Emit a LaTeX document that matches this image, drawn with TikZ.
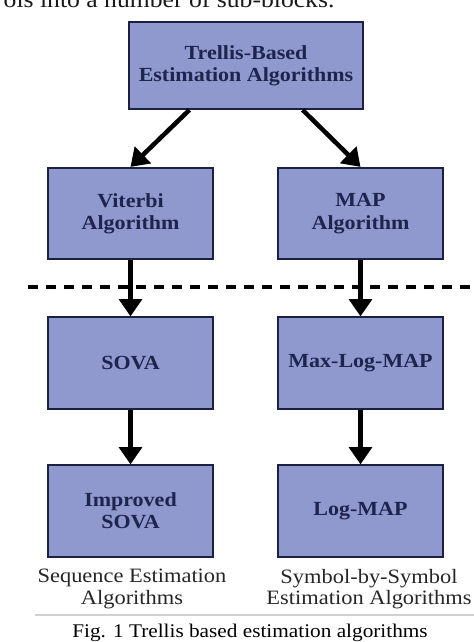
\documentclass[tikz,border=0pt]{standalone}
\usepackage{fontspec}
\setmainfont{Liberation Serif}[FakeStretch=1.1]
\usetikzlibrary{arrows.meta,calc}
\definecolor{boxfill}{RGB}{143,153,206}
\definecolor{boxline}{RGB}{28,32,66}
\definecolor{boxtext}{RGB}{30,36,78}
\definecolor{rulegray}{RGB}{208,208,208}
\tikzset{
  algbox/.style={draw=boxline, line width=1.4pt, fill=boxfill, text=boxtext,
    align=center, inner sep=0pt, minimum width=123.75pt, minimum height=68.5pt,
    font=\fontsize{15}{16.7}\selectfont\bfseries},
  bigarrow/.style={line width=3.4pt, -{Triangle[width=17pt,length=13pt]}},
  grouplabel/.style={align=center, text=black!85, font=\fontsize{15.3}{16}\selectfont}
}
\begin{document}
\begin{tikzpicture}[x=0.75pt, y=-0.75pt]
    \useasboundingbox (0,0) rectangle (474,642);
    \clip (0,0) rectangle (474,642);
    % end of the text above the figure
    \node (prevtext) [anchor=base west, text=black!90, font=\fontsize{17.5}{20}\selectfont] at (-1,8) {ols into a number of sub-blocks.};
    % boxes
    \node (trellis) [algbox, minimum width=175.5pt, minimum height=65.25pt] at (246,65.5) {Trellis-Based\\Estimation Algorithms};
    \node (viterbi) [algbox] at (130.5,213.5) {Viterbi\\Algorithm};
    \node (map) [algbox] at (360.5,213.5) {MAP\\Algorithm};
    \node (sova) [algbox] at (130.5,363) {SOVA};
    \node (maxlog) [algbox] at (360.5,363) {Max-Log-MAP};
    \node (isova) [algbox] at (130.5,511) {Improved\\SOVA};
    \node (logmap) [algbox] at (360.5,511) {Log-MAP};
    % dashed separation
    \coordinate (dashl) at (28,287);
    \coordinate (dashr) at (474,287);
    \draw [line width=2.3pt, dash pattern=on 7.5pt off 6pt] (dashl)--(dashr);
    % arrows
    \draw [bigarrow] ($(trellis.south west)!0.26!(trellis.south east)$)--(viterbi.north);
    \draw [bigarrow] ($(trellis.south west)!0.74!(trellis.south east)$)--(map.north);
    \draw [bigarrow] (viterbi.south)--(sova.north);
    \draw [bigarrow] (map.south)--(maxlog.north);
    \draw [bigarrow] (sova.south)--(isova.north);
    \draw [bigarrow] (maxlog.south)--(logmap.north);
    % group labels
    \node (seqlab) [grouplabel] at (132,589) {Sequence Estimation\\Algorithms};
    \node (symlab) [grouplabel] at (369,589) {Symbol-by-Symbol\\Estimation Algorithms};
    % caption
    \coordinate (rulel) at (35,615);
    \coordinate (ruler) at (474,615);
    \draw [rulegray, line width=1.5pt] (rulel)--(ruler);
    \node (caption) [anchor=base, font=\fontsize{14.5}{16}\selectfont] at (250,637) {Fig. 1 Trellis based estimation algorithms};
\end{tikzpicture}
\end{document}
